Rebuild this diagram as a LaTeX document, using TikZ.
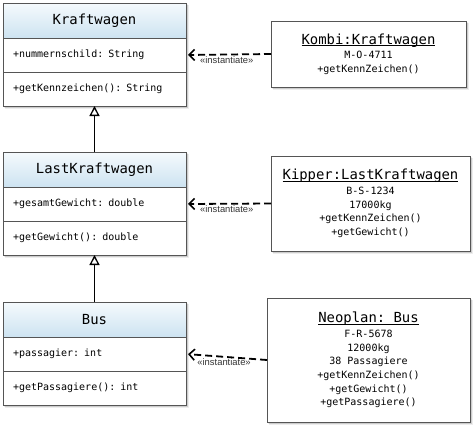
\documentclass[tikz,border=0pt]{standalone}
\usepackage{fontspec}
\setmainfont{Liberation Sans}
\setmonofont{DejaVu Sans Mono}
\usetikzlibrary{arrows.meta,backgrounds}
\definecolor{hdtop}{HTML}{F5FAFD}
\definecolor{hdbot}{HTML}{CDE3F1}
\definecolor{bordergray}{HTML}{555555}
\newcommand\objul[1]{\setbox0\hbox{#1}\rlap{\rule[-2pt]{\wd0}{0.8pt}}\box0}
\newcommand\objtitle[1]{{\fontsize{13.9}{16}\selectfont\objul{#1}}}
\begin{document}
\begin{tikzpicture}[x=1pt,y=-1pt,
  box/.style={draw=bordergray,line width=0.6pt,outer sep=0pt},
  classhead/.style={box,top color=hdtop,bottom color=hdbot,minimum width=183pt,minimum height=35pt,font=\ttfamily\fontsize{13.9}{16}\selectfont,inner sep=0pt},
  classpart/.style={box,fill=white,minimum height=34pt,text width=163pt,inner xsep=10pt,inner ysep=0pt,align=left,font=\ttfamily\fontsize{10}{12}\selectfont,anchor=north},
  objbox/.style={box,fill=white,align=center,font=\ttfamily\fontsize{10}{13.7}\selectfont,inner sep=0pt},
  shadowA/.style={fill=black,opacity=0.07},
  gen/.style={line width=1.3pt,-{Triangle[open,width=10pt,length=10pt,line width=1.3pt]}},
  dep/.style={line width=1.8pt,dash pattern=on 7pt off 4pt,shorten >=2pt,-{Straight Barb[length=5.5pt,width=11pt,line width=1.6pt]}},
  lbl/.style={font=\fontsize{9.4}{11}\selectfont,text=black!80,inner sep=1.2pt}]
\useasboundingbox (0,0) rectangle (473,424);
% classes
\node[classhead] (kw) at (94.5,20.5) {Kraftwagen};
\node[classpart] (kwattr) at (kw.south) {+nummernschild: String};
\node[classpart] (kwmeth) at (kwattr.south) {+getKennzeichen(): String};
\node[classhead] (lkw) at (94.5,169.5) {LastKraftwagen};
\node[classpart] (lkwattr) at (lkw.south) {+gesamtGewicht: double};
\node[classpart] (lkwmeth) at (lkwattr.south) {+getGewicht(): double};
\node[classhead] (bus) at (94.5,319.5) {Bus};
\node[classpart] (busattr) at (bus.south) {+passagier: int};
\node[classpart] (busmeth) at (busattr.south) {+getPassagiere(): int};
% objects
\node[objbox,minimum width=195pt,minimum height=66pt] (kombi) at (368.5,54)
  {\objtitle{Kombi:Kraftwagen}\\[1pt] M-O-4711\\ +getKennZeichen()};
\node[objbox,minimum width=199pt,minimum height=95pt] (kipper) at (370.5,203.5)
  {\objtitle{Kipper:LastKraftwagen}\\[1pt] B-S-1234\\ 17000kg\\ +getKennZeichen()\\ +getGewicht()};
\node[objbox,minimum width=203pt,minimum height=124pt] (neo) at (368.5,360)
  {\objtitle{Neoplan: Bus}\\[1pt] F-R-5678\\ 12000kg\\ 38 Passagiere\\ +getKennZeichen()\\ +getGewicht()\\ +getPassagiere()};
% soft shadows
\begin{scope}[on background layer]
  \foreach \a/\b in {kw/kwmeth,lkw/lkwmeth,bus/busmeth,kombi/kombi,kipper/kipper,neo/neo}{
    \foreach \s in {1,2,3}{
      \fill[shadowA] ([shift={(\s*0.6+0.3,\s*0.6+0.3)}]\a.north west) rectangle ([shift={(\s*0.9+0.6,\s*0.9+0.6)}]\b.south east);
    }
  }
\end{scope}
% generalizations
\draw[gen] (lkw.north) -- (kwmeth.south);
\draw[gen] (bus.north) -- (lkwmeth.south);
% dependencies
\draw[dep] (kombi.west) -- node[lbl,pos=0.52,below] {«instantiate»} (kwattr.east);
\draw[dep] (kipper.west) -- node[lbl,pos=0.52,below] {«instantiate»} (lkwattr.east);
\draw[dep] (neo.west) -- node[lbl,pos=0.53,below] {«instantiate»} (busattr.east);
\end{tikzpicture}
\end{document}
